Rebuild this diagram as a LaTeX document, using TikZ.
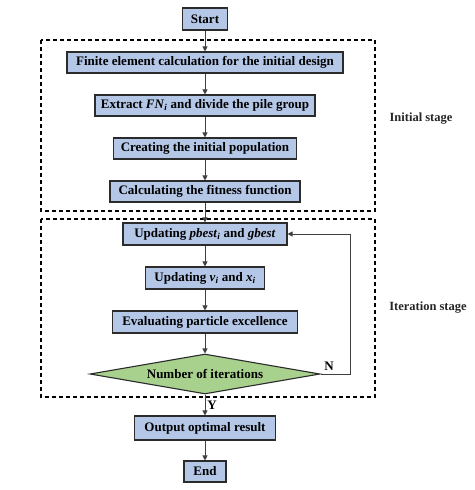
\documentclass[tikz,border=0pt]{standalone}
\usepackage{fontspec}
\setmainfont{Liberation Serif}
\usetikzlibrary{shapes.geometric,arrows.meta}
\definecolor{boxblue}{HTML}{B4C7E7}
\definecolor{diagreen}{HTML}{A9D18E}
\definecolor{edge}{HTML}{2B2B2B}
\begin{document}
\begin{tikzpicture}[x=1pt,y=-1pt,
  txt/.style={font=\bfseries\fontsize{13}{15}\selectfont},
  box/.style={txt, draw=edge, line width=1.1pt, fill=boxblue, inner sep=0pt, align=center},
  decision/.style={txt, diamond, shape aspect=5.75, draw=edge, line width=1.1pt, fill=diagreen, inner sep=0pt},
  arr/.style={draw=black!75, line width=0.8pt, -{Triangle[length=5pt,width=5pt]}},
  stagebox/.style={draw=black, line width=1.1pt, dash pattern=on 4pt off 3pt},
  stagelabel/.style={font=\bfseries\fontsize{12.5}{15}\selectfont, color=black!85}]
\useasboundingbox (0,0) rectangle (474,490);
\fill[white] (0,0) rectangle (474,490);
% stage frames
\draw[stagebox] (41,40) rectangle (375,211);
\draw[stagebox] (41,219) rectangle (375,397);
\node[stagelabel] (l1) at (421,119) {Initial stage};
\node[stagelabel] (l2) at (428,308) {Iteration stage};
% nodes
\node[box, minimum width=45, minimum height=22] (start) at (205,19) {Start};
\node[box, minimum width=276, minimum height=21] (fe) at (205,62.5) {Finite element calculation for the initial design};
\node[box, minimum width=220, minimum height=21] (ex) at (205,105.5) {Extract \textit{FN}\textsubscript{\textit{i}} and divide the pile group};
\node[box, minimum width=183, minimum height=21] (cr) at (205,148.5) {Creating the initial population};
\node[box, minimum width=190, minimum height=21] (ca) at (205,191.5) {Calculating the fitness function};
\node[box, minimum width=164, minimum height=22] (pb) at (205,234) {Updating \textit{pbest}\textsubscript{\textit{i}} and \textit{gbest}};
\node[box, minimum width=119, minimum height=22] (uv) at (205,278) {Updating \textit{v}\textsubscript{\textit{i}} and \textit{x}\textsubscript{\textit{i}}};
\node[box, minimum width=185, minimum height=22] (ev) at (205,322) {Evaluating particle excellence};
\node[decision, minimum width=230, minimum height=40] (dec) at (205,374) {Number of iterations};
\node[box, minimum width=141, minimum height=24] (out) at (205,428) {Output optimal result};
\node[box, minimum width=42, minimum height=21] (end) at (205,471.5) {End};
% connectors
\draw[arr] (start) -- (fe);
\draw[arr] (fe) -- (ex);
\draw[arr] (ex) -- (cr);
\draw[arr] (cr) -- (ca);
\draw[arr] (ca) -- (pb);
\draw[arr] (pb) -- (uv);
\draw[arr] (uv) -- (ev);
\draw[arr] (ev) -- (dec);
\draw[arr] (dec) -- (out);
\node[txt, inner sep=0pt] (ylab) at (212,405) {Y};
\draw[arr] (out) -- (end);
\coordinate (lp) at (350,374);
\draw[arr] (dec.east) -- (lp) |- (pb.east);
\node[txt, inner sep=0pt] (nlab) at (329,366) {N};
\end{tikzpicture}
\end{document}
